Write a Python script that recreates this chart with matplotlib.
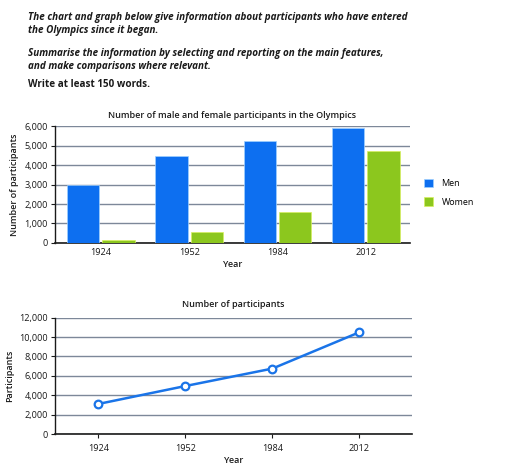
import matplotlib.pyplot as plt
import numpy as np

years = ["1924", "1952", "1984", "2012"]
men = [2980, 4450, 5250, 5900]
women = [150, 550, 1580, 4700]
total = [3100, 4950, 6750, 10500]

blue = "#0d6ff0"
green = "#8cc71e"
grid_col = "#7d8899"
txt = "#1a1a1a"

plt.rcParams['font.family'] = ['Open Sans', 'DejaVu Sans']

fig = plt.figure(figsize=(5.12, 4.69), dpi=100)

# task text
fig.text(0.055, 0.974, "The chart and graph below give information about participants who have entered\nthe Olympics since it began.",
         fontsize=7.15, style='italic', fontweight='bold', va='top', linespacing=1.25, color=txt)
fig.text(0.055, 0.897, "Summarise the information by selecting and reporting on the main features,\nand make comparisons where relevant.",
         fontsize=7.15, style='italic', fontweight='bold', va='top', linespacing=1.25, color=txt)
fig.text(0.055, 0.831, "Write at least 150 words.", fontsize=7.15, fontweight='bold', va='top', color=txt)

# bar chart
ax1 = fig.add_axes([0.107, 0.482, 0.694, 0.249])
x = np.arange(len(years))
w = 0.365
ax1.bar(x - 0.2, men, w, color=blue, edgecolor="#9fd0ff", linewidth=0.5, label="Men", zorder=3)
ax1.bar(x + 0.2, women, w, color=green, edgecolor="#d8f060", linewidth=0.5, label="Women", zorder=3)
ax1.set_xlim(-0.52, 3.5)
ax1.set_ylim(0, 6000)
ax1.set_yticks(range(0, 6001, 1000))
ax1.set_yticklabels([f"{v:,}" for v in range(0, 6001, 1000)])
ax1.set_xticks(x)
ax1.set_xticklabels(years)
ax1.grid(axis='y', color=grid_col, linewidth=1.0, zorder=0)
ax1.set_title("Number of male and female participants in the Olympics", fontsize=6.5,
              fontweight='semibold', pad=6, color=txt)
ax1.set_xlabel("Year", fontsize=6.5, fontweight='semibold', labelpad=2, color=txt)
ax1.set_ylabel("Number of participants", fontsize=6.5, fontweight='semibold', labelpad=4, color=txt)
ax1.legend(loc='center left', bbox_to_anchor=(1.015, 0.43), frameon=False, fontsize=6.5,
           handlelength=1.0, handleheight=1.0, labelspacing=1.05, handletextpad=1.0)

# line chart
ax2 = fig.add_axes([0.107, 0.0746, 0.697, 0.248])
ax2.plot(x, total, color="#1a74e8", linewidth=1.8, marker='o', markersize=5.5,
         markerfacecolor='white', markeredgecolor="#1a74e8", markeredgewidth=1.6, zorder=3, clip_on=False)
ax2.set_xlim(-0.5, 3.6)
ax2.set_ylim(0, 12000)
ax2.set_yticks(range(0, 12001, 2000))
ax2.set_yticklabels([f"{v:,}" for v in range(0, 12001, 2000)])
ax2.set_xticks(x)
ax2.set_xticklabels(years)
ax2.grid(axis='y', color=grid_col, linewidth=1.0, zorder=0)
ax2.set_title("Number of participants", fontsize=6.5, fontweight='semibold', pad=8, color=txt)
ax2.set_xlabel("Year", fontsize=6.5, fontweight='semibold', labelpad=2, color=txt)
ax2.set_ylabel("Participants", fontsize=6.5, fontweight='semibold', labelpad=4, color=txt)

for ax in (ax1, ax2):
    for s in ('top', 'right'):
        ax.spines[s].set_visible(False)
    ax.spines['left'].set_color(txt)
    ax.spines['bottom'].set_color(txt)
    ax.spines['left'].set_linewidth(1.0)
    ax.spines['bottom'].set_linewidth(1.2)
    ax.tick_params(axis='y', length=3, width=0.8, labelsize=6.6, pad=2, colors=txt)
    ax.tick_params(axis='x', length=3 if ax is ax2 else 0, width=0.8, labelsize=6.6, pad=4, colors=txt)

fig.savefig("out.png", dpi=100)
